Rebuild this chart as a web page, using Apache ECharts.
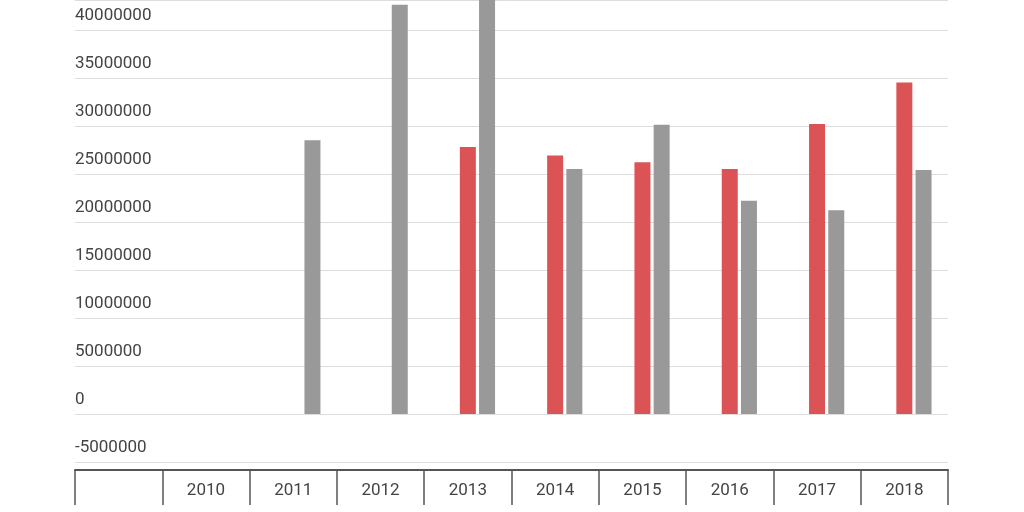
<!DOCTYPE html>
<html><head><meta charset="utf-8">
<script src="https://cdn.jsdelivr.net/npm/echarts@6/dist/echarts.min.js"></script>
<style>html,body{margin:0;background:#fff}#c{width:1024px;height:512px}</style>
</head><body><div id="c"></div>
<script>
const categories = ['', '2010', '2011', '2012', '2013', '2014', '2015', '2016', '2017', '2018']
const emptyValues = [null, null, null, null, null, null, null, null, null, null]
const redValues = [null, null, null, null, 27800000, 26900000, 26200000, 25500000, 30200000, 34500000]
const greyValues = [null, null, 28500000, 42600000, 45000000, 25500000, 30100000, 22200000, 21200000, 25400000]

var myChart = echarts.init(document.getElementById('c'))
var option = {
    animation: false,
    grid: { left: 75, right: 76, top: 0, bottom: 50 },
    xAxis: {
        type: 'category',
        data: categories,
        offset: 8,
        axisLine: { onZero: false, lineStyle: { color: '#555', width: 2 } },
        axisTick: { show: true, length: 35, lineStyle: { color: '#555', width: 1.5 } },
        axisLabel: { color: '#444', fontSize: 17, fontFamily: 'Roboto', margin: 12 }
    },
    yAxis: {
        type: 'value',
        min: -5000000,
        max: 43100000,
        interval: 5000000,
        axisLine: { show: false },
        axisTick: { show: false },
        splitLine: { lineStyle: { color: '#ddd', width: 1 } },
        axisLabel: {
            inside: true, showMaxLabel: false, margin: 0,
            verticalAlign: 'bottom', align: 'left', padding: [0, 0, 6, 0],
            formatter: function (v) { return String(v) },
            color: '#444', fontSize: 17, fontFamily: 'Roboto'
        }
    },
    series: [
        { type: 'bar', data: emptyValues, barWidth: 16, barGap: '20%' },
        { type: 'bar', data: redValues, barWidth: 16, barGap: '20%', itemStyle: { color: '#dc5356' } },
        { type: 'bar', data: greyValues, barWidth: 16, barGap: '20%', itemStyle: { color: '#999999' } }
    ]
}
myChart.setOption(option)
window.addEventListener('resize', myChart.resize)
</script></body></html>
